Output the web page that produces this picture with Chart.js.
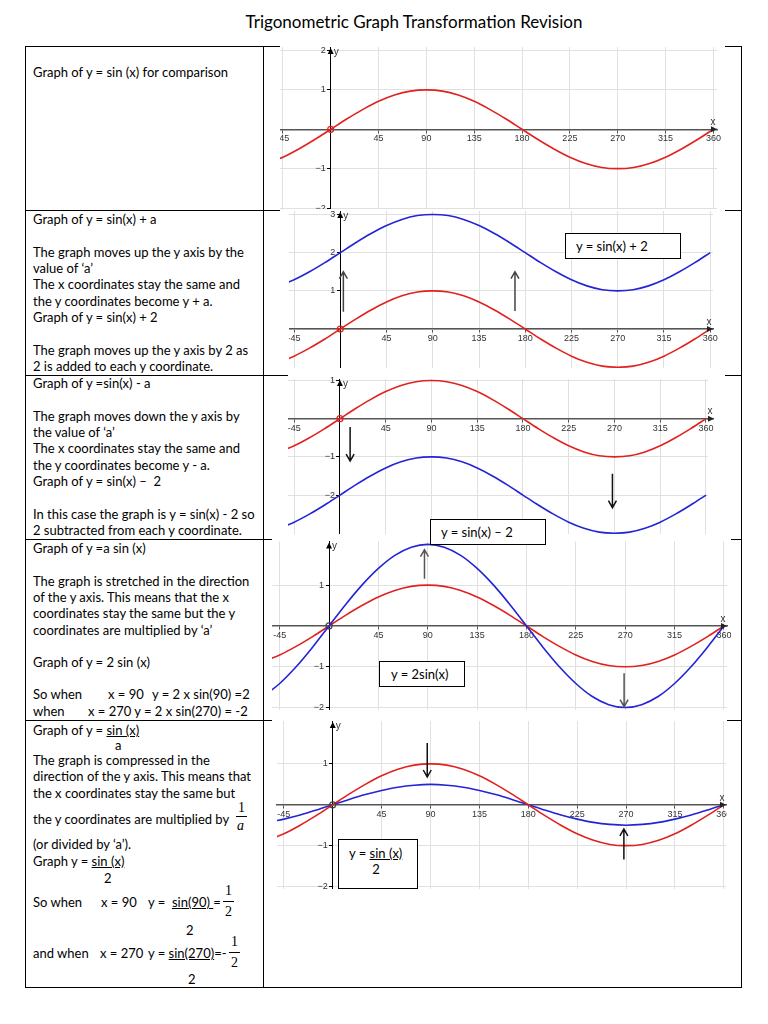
<!DOCTYPE html>
<html>
<head>
<meta charset="utf-8">
<script src="https://cdn.jsdelivr.net/npm/chart.js@4.4.1/dist/chart.umd.min.js"></script>
<style>
  body { margin: 0; background: #fff; }
  #page { position: relative; width: 768px; height: 1024px; overflow: hidden; font-family: Lato, "Open Sans", sans-serif; color: #000; }
  .hl { position: absolute; left: 25px; width: 717px; height: 0; border-top: 1.5px solid #000; }
  .vl { position: absolute; top: 46px; height: 942px; width: 0; border-left: 1.5px solid #000; }
  .t { position: absolute; left: 33px; font-size: 13px; line-height: 16.35px; white-space: pre; }
  .m { position: absolute; font-family: "Liberation Serif", serif; font-size: 14px; line-height: 14px; }
  .bar { position: absolute; height: 0; border-top: 1px solid #000; }
  canvas { position: absolute; }
  .box { position: absolute; border: 1px solid #000; background: #fff; font-size: 13px; white-space: pre; box-sizing: border-box; }
  #title { position: absolute; top: 11px; left: 414px; transform: translateX(-50%); font-size: 17px; white-space: nowrap; }
</style>
</head>
<body>
<div id="page">
  <div id="title">Trigonometric Graph Transformation Revision</div>

  <div class="hl" style="top:46px"></div>
  <div class="hl" style="top:210px"></div>
  <div class="hl" style="top:375px"></div>
  <div class="hl" style="top:539px"></div>
  <div class="hl" style="top:720px"></div>
  <div class="hl" style="top:987px"></div>
  <div class="vl" style="left:25px"></div>
  <div class="vl" style="left:263px"></div>
  <div class="vl" style="left:741px"></div>

  <div class="t" style="top:64px">Graph of y = sin (x) for comparison</div>
  <div class="t" style="top:211px">Graph of y = sin(x) + a

The graph moves up the y axis by the
value of ‘a’
The x coordinates stay the same and
the y coordinates become y + a.
Graph of y = sin(x) + 2

The graph moves up the y axis by 2 as
2 is added to each y coordinate.</div>
  <div class="t" style="top:375px">Graph of y =sin(x) - a

The graph moves down the y axis by
the value of ‘a’
The x coordinates stay the same and
the y coordinates become y - a.
Graph of y = sin(x) –  2

In this case the graph is y = sin(x) - 2 so
2 subtracted from each y coordinate.</div>
  <div class="t" style="top:540px">Graph of y =a sin (x)

The graph is stretched in the direction
of the y axis. This means that the x
coordinates stay the same but the y
coordinates are multiplied by ‘a’

Graph of y = 2 sin (x)</div>
  <div class="t" style="top:686px">So when</div>
  <div class="t" style="top:686px;left:108px">x = 90</div>
  <div class="t" style="top:686px;left:152px">y = 2 x sin(90) =2</div>
  <div class="t" style="top:703px">when</div>
  <div class="t" style="top:703px;left:88px">x = 270 y = 2 x sin(270) = -2</div>

  <div class="t" style="top:722px">Graph of y = <u>sin (x)</u></div>
  <div class="t" style="top:737px;left:115px">a</div>
  <div class="t" style="top:752px">The graph is compressed in the
direction of the y axis. This means that
the x coordinates stay the same but</div>
  <div class="t" style="top:811px">the y coordinates are multiplied by</div>
  <div class="m" style="top:801px;left:238px">1</div>
  <div class="bar" style="top:816px;left:236px;width:11px"></div>
  <div class="m" style="top:819px;left:237px;font-style:italic">a</div>
  <div class="t" style="top:836px">(or divided by ‘a’).</div>
  <div class="t" style="top:853px">Graph y = <u>sin (x)</u></div>
  <div class="t" style="top:870px;left:104px">2</div>

  <div class="t" style="top:894px">So when</div>
  <div class="t" style="top:894px;left:101px">x = 90</div>
  <div class="t" style="top:894px;left:148px">y =  <u>sin(90) </u>=</div>
  <div class="m" style="top:884px;left:225px">1</div>
  <div class="bar" style="top:901px;left:223px;width:11px"></div>
  <div class="m" style="top:905px;left:225px">2</div>
  <div class="t" style="top:922px;left:186px">2</div>

  <div class="t" style="top:945px">and when</div>
  <div class="t" style="top:945px;left:100px">x = 270</div>
  <div class="t" style="top:945px;left:148px">y = <u>sin(270)</u>=-</div>
  <div class="m" style="top:935px;left:231px">1</div>
  <div class="bar" style="top:952px;left:229px;width:11px"></div>
  <div class="m" style="top:956px;left:231px">2</div>
  <div class="t" style="top:971px;left:188px">2</div>

  <canvas id="c1" width="445" height="166" style="left:280px;top:45px"></canvas>
  <canvas id="c2" width="436" height="159" style="left:289px;top:209px"></canvas>
  <canvas id="c3" width="437" height="160" style="left:288px;top:374px"></canvas>
  <canvas id="c4" width="459" height="172" style="left:272px;top:538px"></canvas>
  <canvas id="c5" width="455" height="170" style="left:272px;top:719px"></canvas>

  <div class="box" style="left:565px;top:233px;width:116px;height:26px;padding:4px 0 0 10px">y = sin(x) + 2</div>
  <div class="box" style="left:430px;top:519px;width:116px;height:26px;padding:4px 0 0 10px">y = sin(x) – 2</div>
  <div class="box" style="left:379px;top:661px;width:86px;height:26px;padding:4px 0 0 11px">y = 2sin(x)</div>
  <div class="box" style="left:338px;top:839px;width:80px;height:50px;padding:5px 0 0 10px">y = <u>sin (x)</u>
       2</div>
</div>

<script>
// values, every 15 degrees from -60 to 360
const xDegrees = [-60, -45, -30, -15, 0, 15, 30, 45, 60, 75, 90, 105, 120, 135, 150, 165, 180, 195, 210, 225, 240, 255, 270, 285, 300, 315, 330, 345, 360];
const sinY = [-0.87, -0.71, -0.5, -0.26, 0, 0.26, 0.5, 0.71, 0.87, 0.97, 1, 0.97, 0.87, 0.71, 0.5, 0.26, 0, -0.26, -0.5, -0.71, -0.87, -0.97, -1, -0.97, -0.87, -0.71, -0.5, -0.26, 0];
const sinPlus2 = [1.13, 1.29, 1.5, 1.74, 2, 2.26, 2.5, 2.71, 2.87, 2.97, 3, 2.97, 2.87, 2.71, 2.5, 2.26, 2, 1.74, 1.5, 1.29, 1.13, 1.03, 1, 1.03, 1.13, 1.29, 1.5, 1.74, 2];
const sinMinus2 = [-2.87, -2.71, -2.5, -2.26, -2, -1.74, -1.5, -1.29, -1.13, -1.03, -1, -1.03, -1.13, -1.29, -1.5, -1.74, -2, -2.26, -2.5, -2.71, -2.87, -2.97, -3, -2.97, -2.87, -2.71, -2.5, -2.26, -2];
const twoSin = [-1.73, -1.41, -1, -0.52, 0, 0.52, 1, 1.41, 1.73, 1.93, 2, 1.93, 1.73, 1.41, 1, 0.52, 0, -0.52, -1, -1.41, -1.73, -1.93, -2, -1.93, -1.73, -1.41, -1, -0.52, 0];
const halfSin = [-0.43, -0.35, -0.25, -0.13, 0, 0.13, 0.25, 0.35, 0.43, 0.48, 0.5, 0.48, 0.43, 0.35, 0.25, 0.13, 0, -0.13, -0.25, -0.35, -0.43, -0.48, -0.5, -0.48, -0.43, -0.35, -0.25, -0.13, 0];

const xTickValues = [-45, 0, 45, 90, 135, 180, 225, 270, 315, 360];
const yTicks1 = [-2, -1, 0, 1, 2];
const yTicks2 = [0, 1, 2, 3];
const yTicks3 = [-2, -1, 0, 1];
const yTicks4 = [-2, -1, 0, 1];
const yTicks5 = [-2, -1, 0, 1];

// marker arrows: [x, from y, to y]
const arrows2 = [[3, 0.45, 1.5], [170, 0.47, 1.5]];
const arrows3 = [[10, -0.22, -1.11], [268, -1.44, -2.33]];
const arrows4 = [[87, 1.16, 1.87], [269, -1.16, -1.98]];
const arrows5 = [[87, 1.51, 0.68], [268, -1.34, -0.59]];

const RED = "#e0221f";
const BLUE = "#2424d6";

function pts(values) {
    return xDegrees.map((x, i) => ({ x: x, y: values[i] }));
}

function zeroPad(scale) {
    scale.paddingLeft = 0;
    scale.paddingRight = 0;
    scale.paddingTop = 0;
    scale.paddingBottom = 0;
}

const paper = {
    id: "paper",
    beforeDraw(chart) {
        const ctx = chart.ctx;
        ctx.save();
        ctx.fillStyle = "#fff";
        ctx.fillRect(0, 0, chart.width, chart.height);
        ctx.restore();
    }
};

const axisEnds = {
    id: "axisEnds",
    afterDraw(chart, args, opts) {
        const { ctx, chartArea } = chart;
        const x0 = chart.scales.x.getPixelForValue(0);
        const y0 = chart.scales.y.getPixelForValue(0);
        const tipX = chartArea.right + (opts.tip || 0);
        const tipY = chartArea.top + 1;
        ctx.save();
        ctx.strokeStyle = "#555";
        ctx.lineWidth = 1.5;
        ctx.beginPath();
        ctx.moveTo(chartArea.right - 1, y0);
        ctx.lineTo(tipX, y0);
        ctx.stroke();
        ctx.fillStyle = "#222";
        ctx.beginPath();
        ctx.moveTo(tipX, y0);
        ctx.lineTo(tipX - 6, y0 - 3);
        ctx.lineTo(tipX - 6, y0 + 3);
        ctx.fill();
        ctx.fillStyle = "#000";
        ctx.beginPath();
        ctx.moveTo(x0, tipY);
        ctx.lineTo(x0 - 3, tipY + 6);
        ctx.lineTo(x0 + 3, tipY + 6);
        ctx.fill();
        ctx.font = '10px "Liberation Sans"';
        ctx.fillStyle = "#333";
        ctx.textBaseline = "middle";
        ctx.textAlign = "center";
        ctx.fillText("x", tipX - 4, y0 - 7);
        ctx.textAlign = "left";
        ctx.fillText("y", x0 + 3, tipY + 4);
        ctx.restore();
    }
};

const notes = {
    id: "notes",
    afterDatasetsDraw(chart, args, opts) {
        if (!opts.list) return;
        const ctx = chart.ctx;
        const xs = chart.scales.x, ys = chart.scales.y;
        ctx.save();
        ctx.strokeStyle = opts.color;
        ctx.lineWidth = 1.5;
        opts.list.forEach(([x, from, to]) => {
            const px = xs.getPixelForValue(x);
            const p1 = ys.getPixelForValue(from);
            const p2 = ys.getPixelForValue(to);
            const d = p2 < p1 ? 1 : -1;
            ctx.beginPath();
            ctx.moveTo(px, p1);
            ctx.lineTo(px, p2);
            ctx.moveTo(px - 4, p2 + d * 7);
            ctx.lineTo(px, p2);
            ctx.lineTo(px + 4, p2 + d * 7);
            ctx.stroke();
        });
        ctx.restore();
    }
};

function makeChart(id, c) {
    const canvas = document.getElementById(id);
    return new Chart(canvas, {
        type: "line",
        data: {
            datasets: c.series.map(s => ({
                data: pts(s.values),
                borderColor: s.color,
                borderWidth: 1.6,
                cubicInterpolationMode: "monotone",
                fill: false,
                pointRadius: ctx => (s.origin && ctx.raw && ctx.raw.x === 0) ? 3 : 0,
                pointBorderColor: c.originColor,
                pointBackgroundColor: "rgba(0,0,0,0)",
                pointBorderWidth: 1.2
            }))
        },
        options: {
            responsive: false,
            animation: false,
            devicePixelRatio: 1,
            layout: { padding: c.pad },
            plugins: {
                legend: { display: false },
                tooltip: { enabled: false },
                axisEnds: { tip: c.tip },
                notes: { list: c.arrows, color: c.arrowColor }
            },
            scales: {
                x: {
                    type: "linear",
                    min: c.x[0],
                    max: c.x[1],
                    position: { y: 0 },
                    afterBuildTicks: s => { s.ticks = xTickValues.map(v => ({ value: v })); },
                    afterFit: zeroPad,
                    grid: { color: "#e0e0e0", tickLength: 3, tickColor: "#555" },
                    border: { color: "#555", width: 1.5 },
                    ticks: {
                        autoSkip: false,
                        maxRotation: 0,
                        padding: 1,
                        color: "#333",
                        font: { size: 9, family: "Liberation Sans" },
                        callback: v => v === 0 ? "" : String(v)
                    }
                },
                y: {
                    type: "linear",
                    min: c.y[0],
                    max: c.y[1],
                    position: { x: 0 },
                    afterBuildTicks: s => { s.ticks = c.yTicks.map(v => ({ value: v })); },
                    afterFit: zeroPad,
                    grid: { color: "#e0e0e0", tickLength: 3, tickColor: "#000" },
                    border: { color: "#000", width: 1 },
                    ticks: {
                        autoSkip: false,
                        padding: 1,
                        color: "#333",
                        font: { size: 9, family: "Liberation Sans" },
                        callback: v => v === 0 ? "" : (v < 0 ? "\u2212" + (-v) : String(v)) + "  "
                    }
                }
            }
        },
        plugins: [paper, axisEnds, notes]
    });
}

makeChart("c1", {
    pad: { top: 2, right: 8, bottom: 1 },
    x: [-47.7, 363.4], y: [-2.05, 2.09], yTicks: yTicks1,
    series: [{ values: sinY, color: RED, origin: true }],
    originColor: RED, tip: 0
});
makeChart("c2", {
    pad: { top: 2, right: 12 },
    x: [-49.9, 362.7], y: [-1.02, 3.09], yTicks: yTicks2,
    series: [{ values: sinPlus2, color: BLUE }, { values: sinY, color: RED, origin: true }],
    originColor: RED, tip: 0, arrows: arrows2, arrowColor: "#444"
});
makeChart("c3", {
    pad: { top: 5, right: 17 },
    x: [-51.1, 362], y: [-3.02, 1.04], yTicks: yTicks3,
    series: [{ values: sinMinus2, color: BLUE }, { values: sinY, color: RED, origin: true }],
    originColor: RED, tip: 6, arrows: arrows3, arrowColor: "#111"
});
makeChart("c4", {
    pad: { top: 3.5, right: 4 },
    x: [-52, 362.8], y: [-2.06, 2.07], yTicks: yTicks4,
    series: [{ values: twoSin, color: BLUE }, { values: sinY, color: RED, origin: true }],
    originColor: "#444", tip: 0, arrows: arrows4, arrowColor: "#555"
});
makeChart("c5", {
    pad: { top: 2, left: 5, right: 1 },
    x: [-51.3, 362], y: [-2.06, 2.05], yTicks: yTicks5,
    series: [{ values: sinY, color: RED, origin: true }, { values: halfSin, color: BLUE }],
    originColor: "#444", tip: 0, arrows: arrows5, arrowColor: "#111"
});
</script>
</body>
</html>
